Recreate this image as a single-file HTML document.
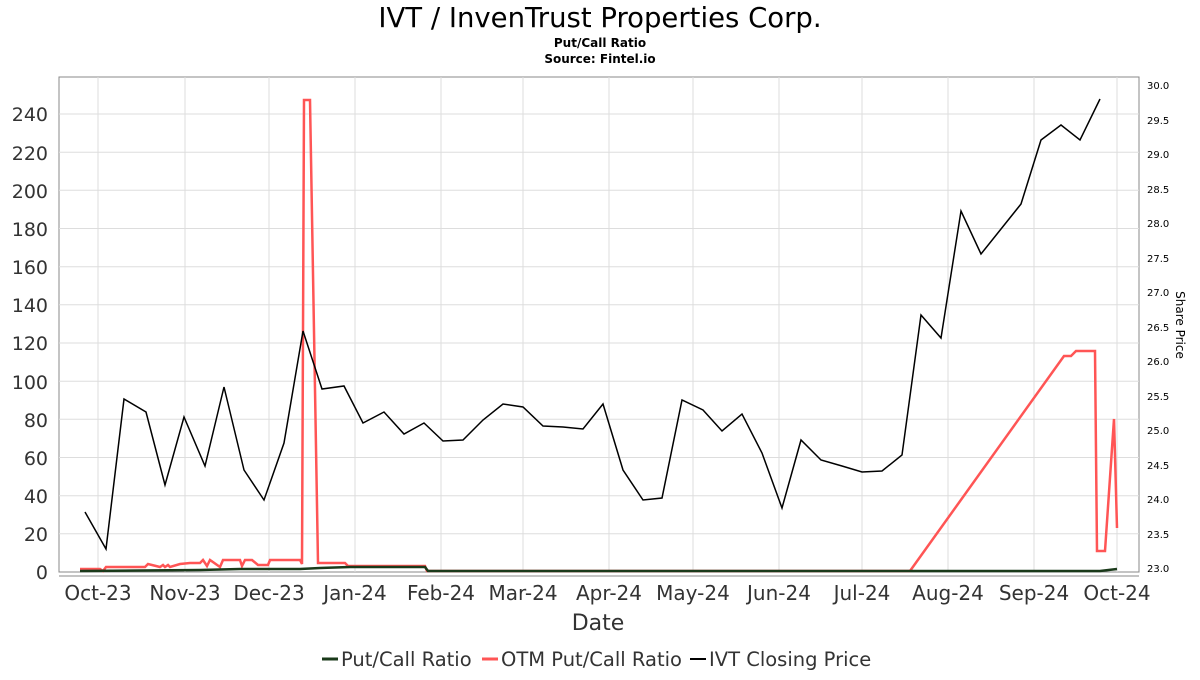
<!DOCTYPE html><html><head><style>body{margin:0;background:#fff}svg{font-family:"DejaVu Sans","Liberation Sans",sans-serif}</style></head><body>
<svg width="1200" height="675" xmlns="http://www.w3.org/2000/svg">
<text x="600" y="27" font-size="27.5" text-anchor="middle" fill="#000">IVT / InvenTrust Properties Corp.</text>
<text x="600" y="47" font-size="12" font-weight="bold" text-anchor="middle">Put/Call Ratio</text>
<text x="600" y="63" font-size="12" font-weight="bold" text-anchor="middle">Source: Fintel.io</text>
<rect x="59" y="77" width="1080" height="495" fill="#fff" stroke="#888"/>
<g stroke="#ddd" stroke-width="1">
<line x1="59" x2="1139" y1="533.8" y2="533.8"/><line x1="59" x2="1139" y1="495.7" y2="495.7"/><line x1="59" x2="1139" y1="457.5" y2="457.5"/><line x1="59" x2="1139" y1="419.3" y2="419.3"/><line x1="59" x2="1139" y1="381.2" y2="381.2"/><line x1="59" x2="1139" y1="343" y2="343"/><line x1="59" x2="1139" y1="304.8" y2="304.8"/><line x1="59" x2="1139" y1="266.7" y2="266.7"/><line x1="59" x2="1139" y1="228.5" y2="228.5"/><line x1="59" x2="1139" y1="190.3" y2="190.3"/><line x1="59" x2="1139" y1="152.2" y2="152.2"/><line x1="59" x2="1139" y1="114" y2="114"/>
<line x1="98" x2="98" y1="77" y2="572"/><line x1="185" x2="185" y1="77" y2="572"/><line x1="269" x2="269" y1="77" y2="572"/><line x1="355" x2="355" y1="77" y2="572"/><line x1="441" x2="441" y1="77" y2="572"/><line x1="523" x2="523" y1="77" y2="572"/><line x1="609" x2="609" y1="77" y2="572"/><line x1="693" x2="693" y1="77" y2="572"/><line x1="779" x2="779" y1="77" y2="572"/><line x1="862" x2="862" y1="77" y2="572"/><line x1="948" x2="948" y1="77" y2="572"/><line x1="1034" x2="1034" y1="77" y2="572"/><line x1="1117" x2="1117" y1="77" y2="572"/>
</g>
<line x1="59" x2="1139" y1="576" y2="576" stroke="#888"/>
<g font-size="19" fill="#333" text-anchor="end">
<text x="48" y="579">0</text><text x="48" y="541">20</text><text x="48" y="503">40</text><text x="48" y="465">60</text><text x="48" y="427">80</text><text x="48" y="389">100</text><text x="48" y="350">120</text><text x="48" y="312">140</text><text x="48" y="274">160</text><text x="48" y="236">180</text><text x="48" y="198">200</text><text x="48" y="160">220</text><text x="48" y="121">240</text>
</g>
<g font-size="20" fill="#333" text-anchor="middle">
<text x="98" y="600">Oct-23</text><text x="185" y="600">Nov-23</text><text x="269" y="600">Dec-23</text><text x="355" y="600">Jan-24</text><text x="441" y="600">Feb-24</text><text x="523" y="600">Mar-24</text><text x="609" y="600">Apr-24</text><text x="693" y="600">May-24</text><text x="779" y="600">Jun-24</text><text x="862" y="600">Jul-24</text><text x="948" y="600">Aug-24</text><text x="1034" y="600">Sep-24</text><text x="1117" y="600">Oct-24</text>
</g>
<text x="598" y="630" font-size="22" fill="#333" text-anchor="middle">Date</text>
<g font-size="10" fill="#000">
<text x="1147" y="572">23.0</text><text x="1147" y="538">23.5</text><text x="1147" y="503">24.0</text><text x="1147" y="469">24.5</text><text x="1147" y="434">25.0</text><text x="1147" y="400">25.5</text><text x="1147" y="365">26.0</text><text x="1147" y="331">26.5</text><text x="1147" y="296">27.0</text><text x="1147" y="262">27.5</text><text x="1147" y="227">28.0</text><text x="1147" y="193">28.5</text><text x="1147" y="158">29.0</text><text x="1147" y="124">29.5</text><text x="1147" y="89">30.0</text>
</g>
<text transform="translate(1176,325) rotate(90)" font-size="12" text-anchor="middle">Share Price</text>
<polyline fill="none" stroke="#ff5555" stroke-width="2.5" points="80,569 100,569 103,571 106,567 145,567 148,564 160,567 163,565 165,567 168,565 170,567 180,564 190,563 200,563 203,560 207,566 210,560 220,567 223,560 240,560 242,566 245,560 252,560 258,565 268,565 270,560 300,560 302,564 304,100 310,100 318,563 345,563 348,566 425,566 427,571 910,571 1064,356 1071,356 1076,351 1095,351 1097,551 1105,551 1114,419 1117,528"/>
<polyline fill="none" stroke="#1a3a1a" stroke-width="2.5" points="80,571 200,570 240,569 300,569 320,568 350,567 425,567 428,571 1100,571 1117,569"/>
<polyline fill="none" stroke="#000" stroke-width="1.5" points="85,512 106,549 124,399 146,412 165,485 184,417 205,466 224,387 244,470 264,500 284,443 303,331 322,389 344,386 363,423 384,412 404,434 424,423 443,441 463,440 483,420 503,404 523,407 543,426 563,427 583,429 603,404 623,470 643,500 662,498 682,400 703,410 722,431 742,414 762,453 782,508 801,440 821,460 842,466 862,472 882,471 902,455 921,315 941,338 961,211 981,254 1001,229 1021,204 1041,140 1061,125 1080,140 1100,99"/>
<g font-size="19.5" fill="#333">
<line x1="322" x2="338" y1="659" y2="659" stroke="#1a3a1a" stroke-width="3"/><text x="341" y="666">Put/Call Ratio</text>
<line x1="482" x2="498" y1="659" y2="659" stroke="#ff5555" stroke-width="3"/><text x="501" y="666">OTM Put/Call Ratio</text>
<line x1="690" x2="706" y1="659" y2="659" stroke="#000" stroke-width="2"/><text x="709" y="666">IVT Closing Price</text>
</g>
</svg></body></html>
